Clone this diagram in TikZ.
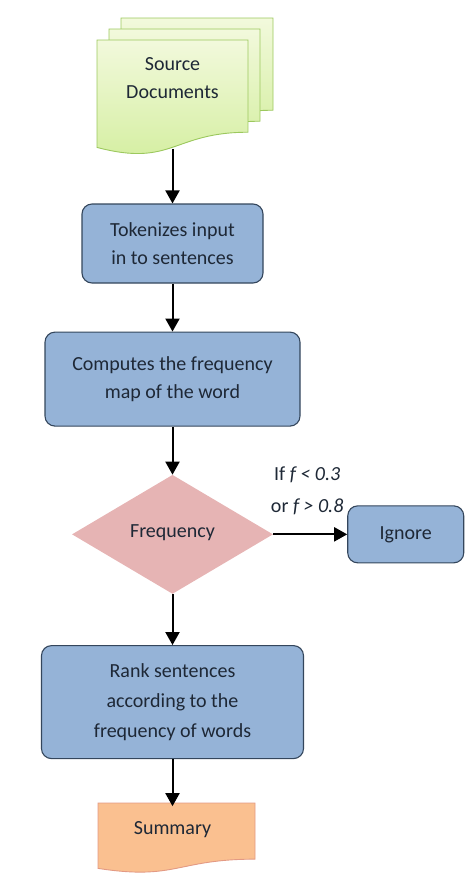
\documentclass[tikz,border=0pt]{standalone}
\usepackage{fontspec}
\setmainfont{Carlito}
\usepackage{tikz}
\usetikzlibrary{arrows.meta,positioning,shapes.geometric,calc}
\usepackage{xcolor}

\definecolor{boxblue}{HTML}{95B3D7}
\definecolor{boxline}{HTML}{34465C}
\definecolor{decpink}{HTML}{E6B4B4}
\definecolor{docgreenA}{HTML}{F2F9DC}
\definecolor{docgreenB}{HTML}{D3EE9E}
\definecolor{docline}{HTML}{9CC85E}
\definecolor{sumorange}{HTML}{FAC090}
\definecolor{sumline}{HTML}{E39A84}
\definecolor{txtdark}{HTML}{1E2836}

% sheet with wavy bottom: left, top, width, height, style
\newcommand{\drawsheet}[5]{%
  \draw[#5] (#1,#2) -- (#1+#3,#2) -- (#1+#3,#2-0.802*#4)
    .. controls (#1+0.5*#3,#2-0.802*#4) and (#1+0.5*#3,#2-1.1075*#4) .. (#1,#2-0.934*#4) -- cycle;
}

\begin{document}
\begin{tikzpicture}[
        x=1pt, y=1pt,
        % Distancias
        node distance=48pt and 74pt,
        % Estilos
        procbox/.style={rectangle, draw=boxline, line width=1.1pt, rounded corners=10pt, fill=boxblue, align=center, text=txtdark},
        decbox/.style={diamond, fill=decpink, minimum width=201pt, minimum height=119pt, inner sep=0pt, text=txtdark},
        arrow/.style={-{Triangle[length=13pt,width=14pt]}, line width=2pt},
        font=\fontsize{20}{28}\selectfont
    ]
        \useasboundingbox (0,0) rectangle (474,-887);

        % Documentos de entrada (tres folhas)
        \drawsheet{121}{-18}{152}{115}{draw=docline, line width=0.9pt, top color=docgreenA, bottom color=docgreenB}
        \drawsheet{109}{-29}{151}{115}{draw=docline, line width=0.9pt, top color=docgreenA, bottom color=docgreenB}
        \drawsheet{97}{-40}{151}{115}{draw=docline, line width=0.9pt, top color=docgreenA, bottom color=docgreenB}
        % Folha de resumo
        \drawsheet{98}{-803}{157}{70}{draw=sumline, line width=0.9pt, fill=sumorange}

        \node (docs) [align=center, text=txtdark] at (172.5,-78) {Source\\Documents};
        \coordinate (docsbot) at (172.5,-149);

        % Etapas
        \node (tok) [procbox, minimum width=181pt, minimum height=79pt] at (172.5,-243.5) {Tokenizes input\\in to sentences};
        \node (comp) [procbox, minimum width=255pt, minimum height=94pt, below=of tok] {Computes the frequency\\map of the word};
        \node (freq) [decbox, below=of comp] {\raisebox{6pt}{Frequency}};
        \node (ignore) [procbox, minimum width=116pt, minimum height=57pt, right=of freq] {Ignore};
        \node (rank) [procbox, minimum width=262pt, minimum height=113pt, below=51pt of freq, font=\fontsize{20}{30}\selectfont] {Rank sentences\\according to the\\frequency of words};
        \node (summary) [minimum width=157pt, minimum height=46pt, inner sep=0pt, below=47pt of rank, text=txtdark] {Summary};

        % --- Conexoes ---
        \draw [arrow] (docsbot) -- (tok.north);
        \draw [arrow] (tok.south) -- (comp.north);
        \draw [arrow] (comp.south) -- (freq.north);
        \draw [arrow] (freq.east) -- (ignore.west) node [midway, above=15pt, xshift=-3pt, align=center, font=\fontsize{20}{32}\selectfont, text=txtdark] {If \textit{f < 0.3}\\or \textit{f > 0.8}};
        \draw [arrow] (freq.south) -- (rank.north);
        \draw [arrow] (rank.south) -- (summary.north);

    \end{tikzpicture}
\end{document}
